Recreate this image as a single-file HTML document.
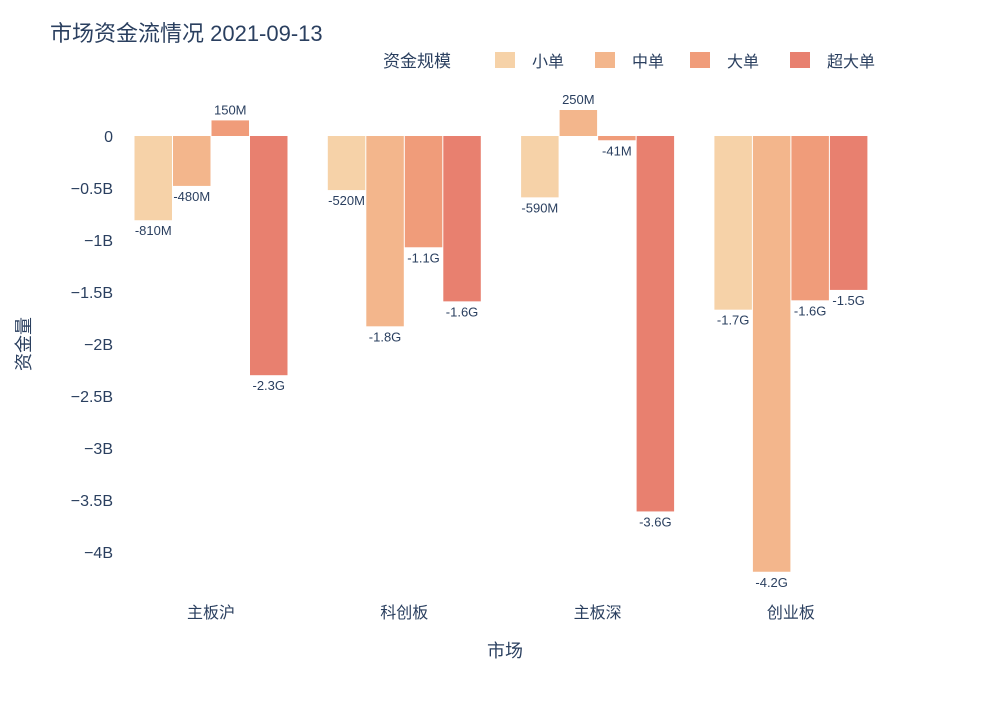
<!DOCTYPE html>
<html><head><meta charset="utf-8"><style>
body{margin:0;background:#fff;}
svg text{font-family:"Liberation Sans","Noto Sans CJK SC",sans-serif;fill:#2a3f5f;}
</style></head><body>
<svg id="chart" width="1000" height="714">
<text x="50" y="41" font-size="22">市场资金流情况 2021-09-13</text>
<text x="383" y="67" font-size="17">资金规模</text>
<g id="legend"></g>
<g id="yaxis"></g>
<g id="bars"></g>
<g id="xaxis"></g>
<text x="505" y="657" font-size="18" text-anchor="middle">市场</text>
<text transform="translate(30,344) rotate(-90)" font-size="18" text-anchor="middle">资金量</text>
</svg>
<script>
const categories=["主板沪","科创板","主板深","创业板"];
const seriesNames=["小单","中单","大单","超大单"];
const small=[-0.81,-0.52,-0.59,-1.67];
const medium=[-0.48,-1.83,0.25,-4.19];
const large=[0.15,-1.07,-0.041,-1.58];
const xlarge=[-2.3,-1.59,-3.61,-1.48];
const labels=[["-810M","-520M","-590M","-1.7G"],["-480M","-1.8G","250M","-4.2G"],["150M","-1.1G","-41M","-1.6G"],["-2.3G","-1.6G","-3.6G","-1.5G"]];
const yTicks=[0,-0.5,-1,-1.5,-2,-2.5,-3,-3.5,-4];
const yTickLabels=["0","−0.5B","−1B","−1.5B","−2B","−2.5B","−3B","−3.5B","−4B"];
const colors=["#f6d2a8","#f3b68c","#f09c7a","#e8806f"];
const series=[small,medium,large,xlarge];
const NS="http://www.w3.org/2000/svg";
function y(v){return 136-v*104;}
function xc(i){return 211+i*193.3;}
const bw=38.5;
function mk(tag,attrs,parent,txt){const e=document.createElementNS(NS,tag);for(const k in attrs)e.setAttribute(k,attrs[k]);if(txt!==undefined)e.textContent=txt;parent.appendChild(e);return e;}
const gy=document.getElementById('yaxis');
yTicks.forEach((t,i)=>{const e=mk('text',{x:113,y:y(t)+6,'font-size':16,'text-anchor':'end'},gy,yTickLabels[i]);

});
const gx=document.getElementById('xaxis');
categories.forEach((c,i)=>{const e=mk('text',{x:xc(i),y:618,'font-size':16,'text-anchor':'middle'},gx,c);

});
const gb=document.getElementById('bars');
series.forEach((s,si)=>{s.forEach((v,i)=>{const x=xc(i)-2*bw+si*bw;const y0=y(0),y1=y(v);
const r=mk('rect',{x:x+0.5,y:Math.min(y0,y1),width:bw-1,height:Math.abs(y1-y0),fill:colors[si]},gb);


const ty=v>=0?y1-6:y1+15;
const t=mk('text',{x:x+bw/2,y:ty,'font-size':13,'text-anchor':'middle'},gb,labels[si][i]);

});});
const gl=document.getElementById('legend');
const lx=[495,595,690,790];
seriesNames.forEach((n,i)=>{const r=mk('rect',{x:lx[i],y:52,width:20,height:16,fill:colors[i]},gl);


const t=mk('text',{x:lx[i]+37,y:67,'font-size':16},gl,n);

});
</script>
</body></html>
